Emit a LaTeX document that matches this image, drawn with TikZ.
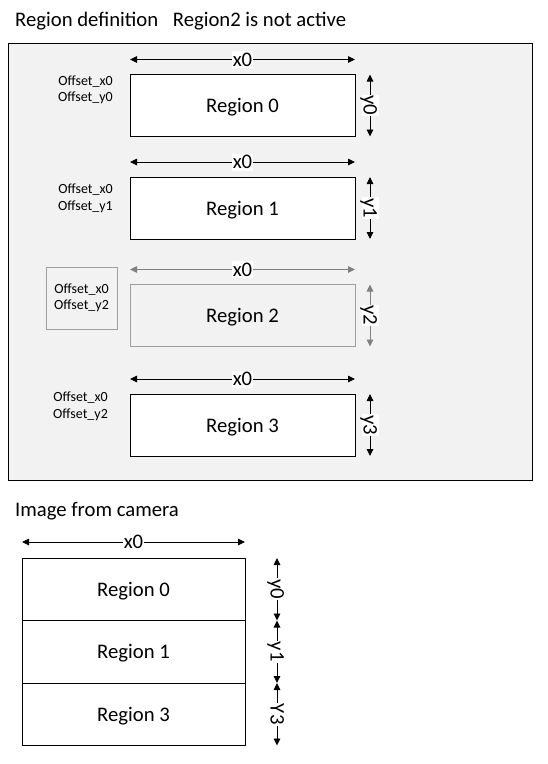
\documentclass[tikz,border=0pt]{standalone}
\usepackage{fontspec}
\setmainfont{Carlito}
\usetikzlibrary{arrows.meta,positioning}
\begin{document}
\begin{tikzpicture}[x=1pt,y=-1pt,line cap=round]
  % Colors
  \colorlet{panelcolor}{black!5}
  \colorlet{inactivecolor}{black!38}
  \colorlet{inactivearrow}{black!50}

  % Styles
  \tikzstyle{big}=[font=\fontsize{20.7}{24}\selectfont]
  \tikzstyle{region}=[big,draw,fill=white,line width=1pt,minimum width=225pt,minimum height=62pt,inner sep=0pt,outer sep=0pt,text height=14pt,text depth=0pt]
  \tikzstyle{dim}=[{Triangle[length=7pt,width=6.5pt]}-{Triangle[length=7pt,width=6.5pt]},line width=0.9pt]
  \tikzstyle{dim label}=[big,fill=white,inner sep=1pt,text height=14pt,text depth=1pt]
  \tikzstyle{offset text}=[align=center,inner sep=0pt,font=\fontsize{14}{16.5}\selectfont]
  \tikzstyle{heading}=[big,anchor=base west,inner sep=0pt]

  \useasboundingbox (0,0) rectangle (547,764);

  % Region definition
  \node[heading] (title) at (15,26) {Region definition\hspace{10pt} Region2 is not active};
  \node[draw,fill=panelcolor,line width=1pt,minimum width=524pt,minimum height=437pt] (panel) at (270,261.5) {};

  \node[region] (r0) at (242.5,105.5) {Region 0};
  \node[region] (r1) at (242.5,208) {Region 1};
  \node[region,draw=inactivecolor,fill=panelcolor] (r2) at (242.5,315.5) {Region 2};
  \node[region] (r3) at (242.5,425) {Region 3};

  \foreach \reg/\h in {r0/y0,r1/y1,r3/y3} {
    \draw[dim] ([yshift=15pt]\reg.north west) -- node[dim label] {x0} ([yshift=15pt]\reg.north east);
    \draw[dim] ([xshift=15pt]\reg.north east) -- node[dim label,rotate=-90] {\h} ([xshift=15pt]\reg.south east);
  }
  \begin{scope}[inactivearrow]
    \draw[dim] ([yshift=15pt]r2.north west) -- node[dim label,text=black] {x0} ([yshift=15pt]r2.north east);
    \draw[dim] ([xshift=15pt]r2.north east) -- node[dim label,text=black,rotate=-90] {y2} ([xshift=15pt]r2.south east);
  \end{scope}

  \node[offset text,align=right,anchor=east] (o0) at (113,90) {Offset\_x0\\Offset\_y0};
  \node[offset text,align=right,anchor=east] (o1) at (113,198.5) {Offset\_x0\\Offset\_y1};
  \node[offset text,draw=inactivecolor,line width=0.8pt,minimum width=71pt,minimum height=62pt] (o2) at (81.5,298) {Offset\_x0\\Offset\_y2};
  \node[offset text] (o3) at (80.5,406.5) {Offset\_x0\\Offset\_y2};

  % Image from camera
  \node[heading] (camera) at (15,516) {Image from camera};
  \node[region,minimum width=223pt,minimum height=62.5pt] (c0) at (133.5,589.25) {Region 0};
  \node[region,minimum width=223pt,minimum height=62.5pt,below=0pt of c0] (c1) {Region 1};
  \node[region,minimum width=223pt,minimum height=62.5pt,below=0pt of c1] (c3) {Region 3};

  \draw[dim] ([yshift=16pt]c0.north west) -- node[dim label] {x0} ([yshift=16pt]c0.north east);
  \foreach \cell/\h in {c0/y0,c1/y1,c3/Y3}
    \draw[dim] ([xshift=32pt]\cell.north east) -- node[dim label,rotate=-90] {\h} ([xshift=32pt]\cell.south east);
\end{tikzpicture}
\end{document}
